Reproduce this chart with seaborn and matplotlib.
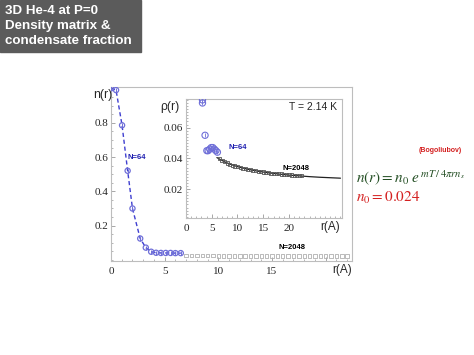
import numpy as np
import pandas as pd
import matplotlib
matplotlib.use("Agg")
import matplotlib.pyplot as plt
import seaborn as sns
from matplotlib.patches import Rectangle
from matplotlib.ticker import MultipleLocator

# main panel, N=64 (blue)
r64 = [0.0, 0.47, 1.03, 1.55, 2.0, 2.72, 3.24, 3.74, 4.2, 4.65, 5.1, 5.55, 6.0, 6.5]
n64 = [1.0, 0.99, 0.785, 0.52, 0.30, 0.125, 0.072, 0.048, 0.042, 0.041, 0.041, 0.041, 0.040, 0.040]

# main panel, N=2048 (grey squares)
r2048 = [7.0, 7.5, 8.0, 8.5, 9.0, 9.5, 10.0, 10.5, 11.0, 11.5, 12.0, 12.5, 13.0, 13.5,
         14.0, 14.5, 15.0, 15.5, 16.0, 16.5, 17.0, 17.5, 18.0, 18.5, 19.0, 19.5,
         20.0, 20.5, 21.0, 21.5, 22.0]
n2048 = [0.026, 0.026, 0.025, 0.025, 0.025, 0.025, 0.024, 0.024, 0.024, 0.024, 0.024,
         0.024, 0.023, 0.023, 0.023, 0.023, 0.023, 0.023, 0.023, 0.023, 0.022, 0.022,
         0.022, 0.022, 0.022, 0.022, 0.022, 0.022, 0.022, 0.022, 0.022]

# inset, N=64
ri64 = [3.2, 3.2, 3.7, 4.05, 4.3, 4.6, 4.9, 5.2, 5.5, 5.8, 6.1]
rho64 = [0.078, 0.076, 0.055, 0.045, 0.045, 0.046, 0.047, 0.047, 0.046, 0.045, 0.044]

# inset, N=2048 data
ri2048 = [6.5, 7.0, 7.5, 8.0, 8.5, 9.0, 9.5, 10.0, 10.5, 11.0, 11.5, 12.0, 12.5, 13.0,
          13.5, 14.0, 14.5, 15.0, 15.5, 16.0, 16.5, 17.0, 17.5, 18.0, 18.5, 19.0,
          19.5, 20.0, 20.5, 21.0, 21.5, 22.0, 22.5]
rho2048 = [0.0398, 0.0388, 0.0378, 0.0370, 0.0362, 0.0356, 0.0350, 0.0345, 0.0340,
           0.0336, 0.0332, 0.0328, 0.0325, 0.0322, 0.0319, 0.0316, 0.0313, 0.0311,
           0.0308, 0.0306, 0.0304, 0.0302, 0.0301, 0.0299, 0.0298, 0.0296, 0.0295,
           0.0293, 0.0292, 0.0291, 0.0290, 0.0289, 0.0288]

# Bogoliubov fit curve
rfit = [6, 7, 8, 9, 10, 12, 14, 16, 18, 20, 22, 24, 26, 28, 30]
rhofit = [0.0405, 0.0386, 0.0370, 0.0357, 0.0346, 0.0329, 0.0316, 0.0306, 0.0298,
          0.0291, 0.0286, 0.0281, 0.0277, 0.0274, 0.0271]

title_lines = ["3D He-4 at P=0", "Density matrix &", "condensate fraction"]

sns.set_style("ticks")
plt.rcParams["font.family"] = ["Liberation Sans", "DejaVu Sans"]
plt.rcParams["mathtext.fontset"] = "stix"

fig = plt.figure(figsize=(4.74, 3.55), dpi=100)

# title box
fig.patches.append(Rectangle((0, 1 - 52 / 355), 141 / 474, 52 / 355,
                             transform=fig.transFigure, color="#5b5b5b", zorder=0))
for i, line in enumerate(title_lines):
    fig.text(5 / 474, 1 - (11.5 + 15 * i) / 355, line, color="white",
             fontweight="bold", fontsize=9.6, va="center", ha="left")

blue = "#3f3fd0"
circ = "#6f6fd8"
spine_c = "#bdbdbd"
serif = ["Liberation Serif", "DejaVu Serif"]

# main axes
ax = fig.add_axes([111 / 474, 1 - 261 / 355, 241 / 474, 174 / 355])
main64 = pd.DataFrame({"r": r64, "n": n64})
main2048 = pd.DataFrame({"r": r2048, "n": n2048})
sns.lineplot(data=main64, x="r", y="n", ax=ax, color=blue, linestyle=(0, (3, 2)),
             linewidth=1.0, zorder=2)
sns.scatterplot(data=main64, x="r", y="n", ax=ax, marker="o", s=14,
                facecolor="none", edgecolor=circ, linewidth=0.9, zorder=3)
sns.scatterplot(data=main64, x="r", y="n", ax=ax, marker="|", s=10,
                color=circ, linewidth=0.7, zorder=3)
sns.scatterplot(data=main2048, x="r", y="n", ax=ax, marker="s", s=6,
                facecolor="none", edgecolor="#b0b0b0", linewidth=0.6, zorder=2)

ax.set_xlim(0, 22.45)
ax.set_ylim(-0.006, 1.008)
ax.set_xticks([0, 5, 10, 15, 20])
ax.set_xticklabels(["0", "5", "10", "15", ""])
ax.set_yticks([0.2, 0.4, 0.6, 0.8])
ax.set_yticklabels(["0.2", "0.4", "0.6", "0.8"])
ax.xaxis.set_minor_locator(MultipleLocator(1))
ax.yaxis.set_minor_locator(MultipleLocator(0.05))
ax.set_xlabel("")
ax.set_ylabel("")
for lab in ax.get_xticklabels() + ax.get_yticklabels():
    lab.set_family(serif)
    lab.set_fontsize(8)
ax.tick_params(which="both", direction="in", color="#999999")
ax.tick_params(axis="x", pad=4)
ax.tick_params(axis="y", pad=2)
ax.tick_params(which="major", length=3, width=0.6)
ax.tick_params(which="minor", length=1.5, width=0.5)
for s in ax.spines.values():
    s.set_color(spine_c)
    s.set_linewidth(0.8)
ax.text(0.006, 0.955, "n(r)", transform=ax.transAxes, fontsize=8.8,
        ha="right", va="center")
ax.text(1.0, -0.05, "r(A)", transform=ax.transAxes, fontsize=8.5,
        ha="right", va="center")
ax.text(1.5, 0.6, "N=64", color="#2020b0", fontsize=5.5, fontweight="bold",
        ha="left", va="center")
ax.text(15.6, 0.07, "N=2048", color="black", fontsize=5.5, fontweight="bold",
        ha="left", va="center")

# inset
ins = fig.add_axes([186 / 474, 1 - 218 / 355, 156 / 474, 119 / 355])
in64 = pd.DataFrame({"r": ri64, "rho": rho64})
in2048 = pd.DataFrame({"r": ri2048, "rho": rho2048})
fit = pd.DataFrame({"r": rfit, "rho": rhofit})
sns.lineplot(data=fit, x="r", y="rho", ax=ins, color="#222222", linewidth=0.9, zorder=2)
sns.scatterplot(data=in2048, x="r", y="rho", ax=ins, marker="s", s=5,
                facecolor="none", edgecolor="#555555", linewidth=0.6, zorder=3)
sns.scatterplot(data=in64, x="r", y="rho", ax=ins, marker="o", s=20,
                facecolor="none", edgecolor=circ, linewidth=0.8, zorder=4)
sns.scatterplot(data=in64, x="r", y="rho", ax=ins, marker="|", s=12,
                color=circ, linewidth=0.6, zorder=4)
ins.set_xlim(0, 30.3)
ins.set_ylim(0.0012, 0.0786)
ins.set_xticks([0, 5, 10, 15, 20])
ins.set_yticks([0.02, 0.04, 0.06])
ins.set_yticklabels(["0.02", "0.04", "0.06"])
ins.xaxis.set_minor_locator(MultipleLocator(1))
ins.yaxis.set_minor_locator(MultipleLocator(0.002))
ins.set_xlabel("")
ins.set_ylabel("")
for lab in ins.get_xticklabels() + ins.get_yticklabels():
    lab.set_family(serif)
    lab.set_fontsize(8)
ins.tick_params(which="both", direction="in", color="#999999")
ins.tick_params(axis="x", pad=4)
ins.tick_params(axis="y", pad=2)
ins.tick_params(which="major", length=3, width=0.6)
ins.tick_params(which="minor", length=1.5, width=0.5)
for s in ins.spines.values():
    s.set_color(spine_c)
    s.set_linewidth(0.8)
ins.text(-0.04, 0.93, "ρ(r)", transform=ins.transAxes, fontsize=8.8,
         ha="right", va="center")
ins.text(0.985, -0.075, "r(A)", transform=ins.transAxes, fontsize=8.5,
         ha="right", va="center")
ins.text(0.97, 0.93, "T = 2.14 K", transform=ins.transAxes, fontsize=7.5,
         ha="right", va="center")
ins.text(8.2, 0.047, "N=64", color="#2020b0", fontsize=5.5, fontweight="bold",
         ha="left", va="center")
ins.text(18.8, 0.0335, "N=2048", color="black", fontsize=5.5, fontweight="bold",
         ha="left", va="center")

# right-hand annotations
fig.text(440 / 474, 1 - 150 / 355, "(Bogoliubov)", color="#d42020", fontsize=5,
         fontweight="bold", ha="center", va="center")
fig.text(356 / 474, 1 - 178 / 355, r"$n(r) = n_0\ e^{\,mT\,/\,4\pi r n_s}$",
         color="#244f24", fontsize=11, ha="left", va="center")
fig.text(356 / 474, 1 - 198 / 355, r"$n_0 = 0.024$", color="#d42020",
         fontsize=11, ha="left", va="center")

fig.savefig("out.png", dpi=100)
